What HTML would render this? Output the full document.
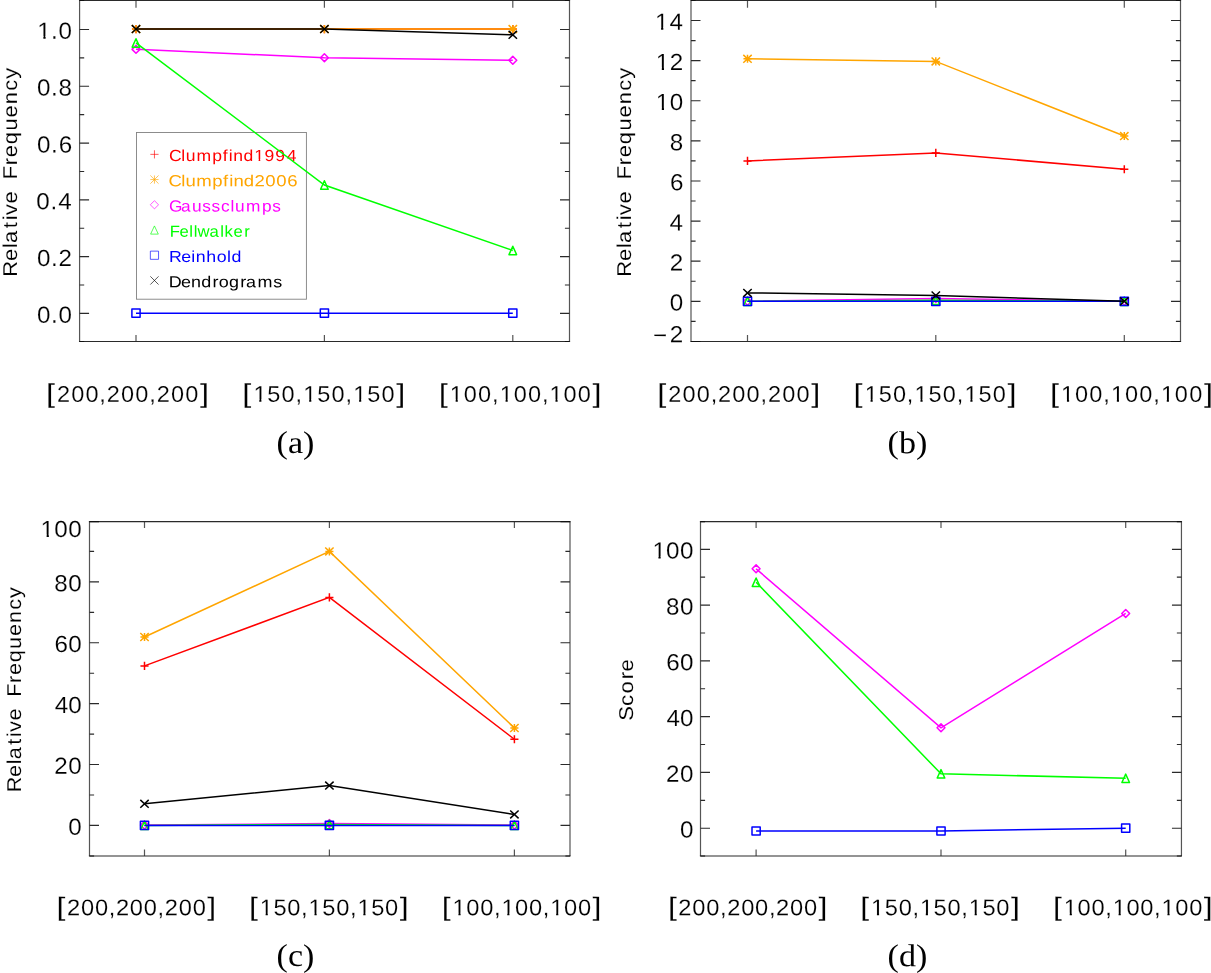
<!DOCTYPE html>
<html><head><meta charset="utf-8"><style>
html,body{margin:0;padding:0;background:#fff;overflow:hidden;}
svg{display:block;will-change:transform;}
text{text-rendering:geometricPrecision;font-size:100px;font-kerning:none;font-variant-ligatures:none;}
.sans{font-family:"Liberation Sans", sans-serif;}
.serif{font-family:"Liberation Serif", serif;}
</style></head><body>
<svg width="1211" height="973" viewBox="0 0 1211 973">
<rect width="1211" height="973" fill="#fff"/>
<!-- panel a -->
<rect x="136.5" y="132.5" width="169.9" height="166.7" fill="none" stroke="#808080" stroke-width="0.9"/>
<path d="M150.35 154.35H158.55M154.45 150.25V158.45" stroke="#ff0000" stroke-width="0.65" fill="none" stroke-linejoin="round"/>
<clipPath id="c1"><path clip-rule="evenodd" d="M-10 -10H1300V1000H-10ZM254.62 158.93h4.00v3.07h-4.00ZM260.26 158.93h3.82v3.07h-3.82Z"/></clipPath><g clip-path="url(#c1)"><text class="sans" transform="translate(0 161.05) skewY(0.2) scale(0.17578 0.16000)" x="961.1 1031.3 1056.2 1117.6 1207.2 1267.6 1301.9 1326.6 1384.7 1446.4 1505.0 1566.5 1631.4" y="-3.69 -3.95 -4.05 -4.29 -4.63 -4.86 -4.99 -5.09 -5.31 -5.55 -5.77 -6.01 -6.26" fill="#ff0000">Clumpfind1994</text></g>
<path d="M150.35 179.57H158.55M154.45 175.47V183.67M150.35 175.47L158.55 183.67M150.35 183.67L158.55 175.47" stroke="#ffa500" stroke-width="0.65" fill="none" stroke-linejoin="round"/>
<text class="sans" transform="translate(0 186.27) skewY(0.2) scale(0.18546 0.16000)" x="909.2 977.4 1000.4 1058.4 1144.6 1202.9 1235.8 1258.7 1314.2 1371.8 1430.5 1489.2 1549.1" y="-3.68 -3.95 -4.05 -4.28 -4.63 -4.87 -5.00 -5.09 -5.32 -5.55 -5.79 -6.03 -6.27" fill="#ffa500">Clumpfind2006</text>
<path d="M150.35 204.79L154.45 200.69L158.55 204.79L154.45 208.89Z" stroke="#ff00ff" stroke-width="0.65" fill="none" stroke-linejoin="round"/>
<text class="sans" transform="translate(0 211.49) skewY(0.2) scale(0.17299 0.16000)" x="976.5 1045.8 1109.6 1169.5 1223.2 1277.2 1332.9 1358.9 1422.3 1513.9 1573.5" y="-3.69 -3.95 -4.19 -4.41 -4.62 -4.82 -5.03 -5.13 -5.37 -5.71 -5.94" fill="#ff00ff">Gaussclumps</text>
<path d="M150.60 234.11L154.45 225.91L158.30 234.11Z" stroke="#00ff00" stroke-width="0.65" fill="none" stroke-linejoin="round"/>
<text class="sans" transform="translate(0 236.71) skewY(0.2) scale(0.16705 0.16000)" x="1016.5 1074.8 1133.5 1159.3 1182.8 1253.7 1317.8 1344.2 1398.3 1461.8" y="-3.70 -3.92 -4.13 -4.23 -4.31 -4.57 -4.80 -4.90 -5.10 -5.33" fill="#00ff00">Fellwalker</text>
<path d="M150.35 251.13H158.55V259.33H150.35Z" stroke="#0000ff" stroke-width="0.65" fill="none" stroke-linejoin="round"/>
<text class="sans" transform="translate(0 261.93) skewY(0.2) scale(0.17737 0.16000)" x="952.2 1021.4 1078.4 1103.6 1162.5 1221.7 1280.4 1305.2" y="-3.68 -3.95 -4.17 -4.27 -4.50 -4.73 -4.95 -5.05" fill="#0000ff">Reinhold</text>
<path d="M150.35 276.35L158.55 284.55M150.35 284.55L158.55 276.35" stroke="#000000" stroke-width="0.65" fill="none" stroke-linejoin="round"/>
<text class="sans" transform="translate(0 287.15) skewY(0.2) scale(0.17985 0.16000)" x="938.3 1006.0 1061.9 1119.2 1181.3 1216.5 1273.7 1335.8 1367.4 1431.5 1519.8" y="-3.68 -3.95 -4.17 -4.39 -4.64 -4.77 -5.00 -5.24 -5.37 -5.62 -5.96" fill="#000000">Dendrograms</text>
<path d="M79.58 0.45V341.45M569.50 0.45V341.45M136.00 0.45v7.4M136.00 341.45v-6.55M324.40 0.45v7.4M324.40 341.45v-6.55M512.80 0.45v7.4M512.80 341.45v-6.55" stroke="#555555" stroke-width="1.2" fill="none"/>
<path d="M78.98 0.45H570.10M78.98 341.45H570.10M79.58 313.43h9.5M569.50 313.43h-9.5M79.58 285.03h4.6M569.50 285.03h-4.6M79.58 256.64h9.5M569.50 256.64h-9.5M79.58 228.24h4.6M569.50 228.24h-4.6M79.58 199.85h9.5M569.50 199.85h-9.5M79.58 171.45h4.6M569.50 171.45h-4.6M79.58 143.05h9.5M569.50 143.05h-9.5M79.58 114.66h4.6M569.50 114.66h-4.6M79.58 86.26h9.5M569.50 86.26h-9.5M79.58 57.87h4.6M569.50 57.87h-4.6M79.58 29.47h9.5M569.50 29.47h-9.5" stroke="#2a2a2a" stroke-width="1.15" fill="none"/>
<path d="M79.58 341.45h4.6M569.50 341.45h-4.6M79.58 0.45h4.6M569.50 0.45h-4.6" stroke="#111" stroke-width="1.15" fill="none"/>
<polyline points="136.00,29.10 324.40,29.10 512.80,29.10" stroke="#ff0000" stroke-width="1.5" fill="none"/>
<path d="M131.95 29.10H140.05M136.00 25.05V33.15" stroke="#ff0000" stroke-width="1.5" fill="none" stroke-linejoin="round"/>
<path d="M320.35 29.10H328.45M324.40 25.05V33.15" stroke="#ff0000" stroke-width="1.5" fill="none" stroke-linejoin="round"/>
<path d="M508.75 29.10H516.85M512.80 25.05V33.15" stroke="#ff0000" stroke-width="1.5" fill="none" stroke-linejoin="round"/>
<polyline points="136.00,29.10 324.40,29.10 512.80,29.10" stroke="#ffa500" stroke-width="1.5" fill="none"/>
<path d="M131.95 29.10H140.05M136.00 25.05V33.15M131.80 25.15L140.20 33.05M131.80 33.05L140.20 25.15" stroke="#ffa500" stroke-width="1.5" fill="none" stroke-linejoin="round"/>
<path d="M320.35 29.10H328.45M324.40 25.05V33.15M320.20 25.15L328.60 33.05M320.20 33.05L328.60 25.15" stroke="#ffa500" stroke-width="1.5" fill="none" stroke-linejoin="round"/>
<path d="M508.75 29.10H516.85M512.80 25.05V33.15M508.60 25.15L517.00 33.05M508.60 33.05L517.00 25.15" stroke="#ffa500" stroke-width="1.5" fill="none" stroke-linejoin="round"/>
<polyline points="136.00,49.35 324.40,57.70 512.80,60.30" stroke="#ff00ff" stroke-width="1.5" fill="none"/>
<path d="M132.05 49.35L136.00 45.40L139.95 49.35L136.00 53.30Z" stroke="#ff00ff" stroke-width="1.5" fill="none" stroke-linejoin="round"/>
<path d="M320.45 57.70L324.40 53.75L328.35 57.70L324.40 61.65Z" stroke="#ff00ff" stroke-width="1.5" fill="none" stroke-linejoin="round"/>
<path d="M508.85 60.30L512.80 56.35L516.75 60.30L512.80 64.25Z" stroke="#ff00ff" stroke-width="1.5" fill="none" stroke-linejoin="round"/>
<polyline points="136.00,42.95 324.40,185.00 512.80,250.45" stroke="#00ff00" stroke-width="1.5" fill="none"/>
<path d="M132.20 47.15L136.00 38.75L139.80 47.15Z" stroke="#00ff00" stroke-width="1.5" fill="none" stroke-linejoin="round"/>
<path d="M320.60 189.20L324.40 180.80L328.20 189.20Z" stroke="#00ff00" stroke-width="1.5" fill="none" stroke-linejoin="round"/>
<path d="M509.00 254.65L512.80 246.25L516.60 254.65Z" stroke="#00ff00" stroke-width="1.5" fill="none" stroke-linejoin="round"/>
<polyline points="136.00,313.20 324.40,313.20 512.80,313.20" stroke="#0000ff" stroke-width="1.5" fill="none"/>
<path d="M131.90 309.10H140.10V317.30H131.90Z" stroke="#0000ff" stroke-width="1.5" fill="none" stroke-linejoin="round"/>
<path d="M320.30 309.10H328.50V317.30H320.30Z" stroke="#0000ff" stroke-width="1.5" fill="none" stroke-linejoin="round"/>
<path d="M508.70 309.10H516.90V317.30H508.70Z" stroke="#0000ff" stroke-width="1.5" fill="none" stroke-linejoin="round"/>
<polyline points="136.00,29.10 324.40,29.10 512.80,34.80" stroke="#000000" stroke-width="1.5" fill="none"/>
<path d="M131.80 25.15L140.20 33.05M131.80 33.05L140.20 25.15" stroke="#000000" stroke-width="1.5" fill="none" stroke-linejoin="round"/>
<path d="M320.20 25.15L328.60 33.05M320.20 33.05L328.60 25.15" stroke="#000000" stroke-width="1.5" fill="none" stroke-linejoin="round"/>
<path d="M508.60 30.85L517.00 38.75M508.60 38.75L517.00 30.85" stroke="#000000" stroke-width="1.5" fill="none" stroke-linejoin="round"/>
<text class="sans" transform="translate(0 322.75) skewY(0.2) scale(0.24237 0.23305)" x="152.8 210.8 241.0" y="-0.55 -0.77 -0.88" fill="#000" stroke="#fff" stroke-width="0.63">0.0</text>
<text class="sans" transform="translate(0 265.96) skewY(0.2) scale(0.24237 0.23305)" x="152.8 210.8 241.0" y="-0.55 -0.77 -0.88" fill="#000" stroke="#fff" stroke-width="0.63">0.2</text>
<text class="sans" transform="translate(0 209.17) skewY(0.2) scale(0.24237 0.23305)" x="149.8 207.9 239.9" y="-0.54 -0.75 -0.87" fill="#000" stroke="#fff" stroke-width="0.63">0.4</text>
<text class="sans" transform="translate(0 152.38) skewY(0.2) scale(0.24237 0.23305)" x="152.8 210.8 242.2" y="-0.55 -0.77 -0.88" fill="#000" stroke="#fff" stroke-width="0.63">0.6</text>
<text class="sans" transform="translate(0 95.58) skewY(0.2) scale(0.24237 0.23305)" x="152.8 210.8 241.0" y="-0.55 -0.77 -0.88" fill="#000" stroke="#fff" stroke-width="0.63">0.8</text>
<clipPath id="c2"><path clip-rule="evenodd" d="M-10 -10H1300V1000H-10ZM38.07 36.12h5.30v3.62h-5.30ZM45.60 36.12h5.06v3.62h-5.06Z"/></clipPath><g clip-path="url(#c2)"><text class="sans" transform="translate(0 38.79) skewY(0.2) scale(0.24237 0.23305)" x="154.0 210.8 241.0" y="-0.56 -0.77 -0.88" fill="#000" stroke="#fff" stroke-width="0.63">1.0</text></g>
<text class="sans" transform="translate(46.07 402.30) skewY(0.2) scale(0.32662 0.26498)" fill="#000" stroke="#fff" stroke-width="0.51">[</text>
<text class="sans" transform="translate(200.01 402.30) skewY(0.2) scale(0.32662 0.26498)" fill="#000" stroke="#fff" stroke-width="0.51">]</text>
<text class="sans" transform="translate(0 401.78) skewY(0.2) scale(0.23503 0.22599)" x="242.0 302.7 363.3 422.8 454.3 515.0 575.7 635.1 666.7 727.4 788.1" y="-0.88 -1.10 -1.32 -1.53 -1.65 -1.87 -2.09 -2.31 -2.42 -2.64 -2.86" fill="#000" stroke="#fff" stroke-width="0.65">200,200,200</text>
<text class="sans" transform="translate(242.27 402.30) skewY(0.2) scale(0.32662 0.26498)" fill="#000" stroke="#fff" stroke-width="0.51">[</text>
<text class="sans" transform="translate(396.21 402.30) skewY(0.2) scale(0.32662 0.26498)" fill="#000" stroke="#fff" stroke-width="0.51">]</text>
<clipPath id="c3"><path clip-rule="evenodd" d="M-10 -10H1300V1000H-10ZM254.08 399.16h5.16v3.57h-5.16ZM261.41 399.16h4.92v3.57h-4.92ZM303.99 399.16h5.16v3.57h-5.16ZM311.32 399.16h4.92v3.57h-4.92ZM353.90 399.16h5.16v3.57h-5.16ZM361.23 399.16h4.92v3.57h-4.92Z"/></clipPath><g clip-path="url(#c3)"><text class="sans" transform="translate(0 401.78) skewY(0.2) scale(0.23503 0.22599)" x="1078.1 1137.6 1198.1 1257.6 1290.5 1349.9 1410.5 1469.9 1502.8 1562.3 1622.8" y="-3.91 -4.13 -4.35 -4.57 -4.68 -4.90 -5.12 -5.34 -5.46 -5.67 -5.89" fill="#000" stroke="#fff" stroke-width="0.65">150,150,150</text></g>
<text class="sans" transform="translate(438.67 402.30) skewY(0.2) scale(0.32662 0.26498)" fill="#000" stroke="#fff" stroke-width="0.51">[</text>
<text class="sans" transform="translate(592.61 402.30) skewY(0.2) scale(0.32662 0.26498)" fill="#000" stroke="#fff" stroke-width="0.51">]</text>
<clipPath id="c4"><path clip-rule="evenodd" d="M-10 -10H1300V1000H-10ZM450.48 399.16h5.16v3.57h-5.16ZM457.81 399.16h4.92v3.57h-4.92ZM500.39 399.16h5.16v3.57h-5.16ZM507.72 399.16h4.92v3.57h-4.92ZM550.30 399.16h5.16v3.57h-5.16ZM557.63 399.16h4.92v3.57h-4.92Z"/></clipPath><g clip-path="url(#c4)"><text class="sans" transform="translate(0 401.78) skewY(0.2) scale(0.23503 0.22599)" x="1913.8 1973.1 2033.8 2093.2 2126.1 2185.5 2246.1 2305.6 2338.5 2397.8 2458.5" y="-6.95 -7.16 -7.38 -7.60 -7.72 -7.93 -8.15 -8.37 -8.49 -8.70 -8.93" fill="#000" stroke="#fff" stroke-width="0.65">100,100,100</text></g>
<!-- panel b -->
<path d="M691.00 0.45V341.45M1180.50 0.45V341.45M747.50 0.45v7.4M747.50 341.45v-6.55M935.80 0.45v7.4M935.80 341.45v-6.55M1124.30 0.45v7.4M1124.30 341.45v-6.55" stroke="#555555" stroke-width="1.2" fill="none"/>
<path d="M690.40 0.45H1181.10M690.40 341.45H1181.10M691.00 321.36h4.6M1180.50 321.36h-4.6M691.00 301.30h9.5M1180.50 301.30h-9.5M691.00 281.24h4.6M1180.50 281.24h-4.6M691.00 261.19h9.5M1180.50 261.19h-9.5M691.00 241.13h4.6M1180.50 241.13h-4.6M691.00 221.07h9.5M1180.50 221.07h-9.5M691.00 201.02h4.6M1180.50 201.02h-4.6M691.00 180.96h9.5M1180.50 180.96h-9.5M691.00 160.90h4.6M1180.50 160.90h-4.6M691.00 140.84h9.5M1180.50 140.84h-9.5M691.00 120.79h4.6M1180.50 120.79h-4.6M691.00 100.73h9.5M1180.50 100.73h-9.5M691.00 80.67h4.6M1180.50 80.67h-4.6M691.00 60.62h9.5M1180.50 60.62h-9.5M691.00 40.56h4.6M1180.50 40.56h-4.6M691.00 20.50h9.5M1180.50 20.50h-9.5" stroke="#2a2a2a" stroke-width="1.15" fill="none"/>
<path d="M691.00 341.45h9.5M1180.50 341.45h-9.5M691.00 0.45h4.6M1180.50 0.45h-4.6" stroke="#111" stroke-width="1.15" fill="none"/>
<polyline points="747.50,160.90 935.80,152.88 1124.30,169.32" stroke="#ff0000" stroke-width="1.5" fill="none"/>
<path d="M743.45 160.90H751.55M747.50 156.85V164.95" stroke="#ff0000" stroke-width="1.5" fill="none" stroke-linejoin="round"/>
<path d="M931.75 152.88H939.85M935.80 148.83V156.93" stroke="#ff0000" stroke-width="1.5" fill="none" stroke-linejoin="round"/>
<path d="M1120.25 169.32H1128.35M1124.30 165.27V173.37" stroke="#ff0000" stroke-width="1.5" fill="none" stroke-linejoin="round"/>
<polyline points="747.50,58.81 935.80,61.42 1124.30,136.03" stroke="#ffa500" stroke-width="1.5" fill="none"/>
<path d="M743.45 58.81H751.55M747.50 54.76V62.86M743.30 54.86L751.70 62.76M743.30 62.76L751.70 54.86" stroke="#ffa500" stroke-width="1.5" fill="none" stroke-linejoin="round"/>
<path d="M931.75 61.42H939.85M935.80 57.37V65.47M931.60 57.47L940.00 65.37M931.60 65.37L940.00 57.47" stroke="#ffa500" stroke-width="1.5" fill="none" stroke-linejoin="round"/>
<path d="M1120.25 136.03H1128.35M1124.30 131.98V140.08M1120.10 132.08L1128.50 139.98M1120.10 139.98L1128.50 132.08" stroke="#ffa500" stroke-width="1.5" fill="none" stroke-linejoin="round"/>
<polyline points="747.50,301.30 935.80,298.49 1124.30,301.30" stroke="#ff00ff" stroke-width="1.5" fill="none"/>
<path d="M743.55 301.30L747.50 297.35L751.45 301.30L747.50 305.25Z" stroke="#ff00ff" stroke-width="1.5" fill="none" stroke-linejoin="round"/>
<path d="M931.85 298.49L935.80 294.54L939.75 298.49L935.80 302.44Z" stroke="#ff00ff" stroke-width="1.5" fill="none" stroke-linejoin="round"/>
<path d="M1120.35 301.30L1124.30 297.35L1128.25 301.30L1124.30 305.25Z" stroke="#ff00ff" stroke-width="1.5" fill="none" stroke-linejoin="round"/>
<polyline points="747.50,301.30 935.80,300.30 1124.30,301.30" stroke="#00ff00" stroke-width="1.5" fill="none"/>
<path d="M743.70 305.50L747.50 297.10L751.30 305.50Z" stroke="#00ff00" stroke-width="1.5" fill="none" stroke-linejoin="round"/>
<path d="M932.00 304.50L935.80 296.10L939.60 304.50Z" stroke="#00ff00" stroke-width="1.5" fill="none" stroke-linejoin="round"/>
<path d="M1120.50 305.50L1124.30 297.10L1128.10 305.50Z" stroke="#00ff00" stroke-width="1.5" fill="none" stroke-linejoin="round"/>
<polyline points="747.50,301.30 935.80,301.30 1124.30,301.30" stroke="#0000ff" stroke-width="1.5" fill="none"/>
<path d="M743.40 297.20H751.60V305.40H743.40Z" stroke="#0000ff" stroke-width="1.5" fill="none" stroke-linejoin="round"/>
<path d="M931.70 297.20H939.90V305.40H931.70Z" stroke="#0000ff" stroke-width="1.5" fill="none" stroke-linejoin="round"/>
<path d="M1120.20 297.20H1128.40V305.40H1120.20Z" stroke="#0000ff" stroke-width="1.5" fill="none" stroke-linejoin="round"/>
<polyline points="747.50,292.88 935.80,295.48 1124.30,301.30" stroke="#000000" stroke-width="1.5" fill="none"/>
<path d="M743.30 288.93L751.70 296.83M743.30 296.83L751.70 288.93" stroke="#000000" stroke-width="1.5" fill="none" stroke-linejoin="round"/>
<path d="M931.60 291.53L940.00 299.43M931.60 299.43L940.00 291.53" stroke="#000000" stroke-width="1.5" fill="none" stroke-linejoin="round"/>
<path d="M1120.10 297.35L1128.50 305.25M1120.10 305.25L1128.50 297.35" stroke="#000000" stroke-width="1.5" fill="none" stroke-linejoin="round"/>
<text class="sans" transform="translate(0 342.22) skewY(0.2) scale(0.24237 0.23305)" x="2694.1 2763.2" y="-6.78 -10.03" fill="#000" stroke="#fff" stroke-width="0.63">−2</text>
<text class="sans" transform="translate(0 310.62) skewY(0.2) scale(0.24237 0.23305)" x="2763.2" y="-10.03" fill="#000" stroke="#fff" stroke-width="0.63">0</text>
<text class="sans" transform="translate(0 270.51) skewY(0.2) scale(0.24237 0.23305)" x="2763.2" y="-10.03" fill="#000" stroke="#fff" stroke-width="0.63">2</text>
<text class="sans" transform="translate(0 230.39) skewY(0.2) scale(0.24237 0.23305)" x="2762.0" y="-10.03" fill="#000" stroke="#fff" stroke-width="0.63">4</text>
<text class="sans" transform="translate(0 190.28) skewY(0.2) scale(0.24237 0.23305)" x="2764.3" y="-10.04" fill="#000" stroke="#fff" stroke-width="0.63">6</text>
<text class="sans" transform="translate(0 150.17) skewY(0.2) scale(0.24237 0.23305)" x="2763.2" y="-10.03" fill="#000" stroke="#fff" stroke-width="0.63">8</text>
<clipPath id="c5"><path clip-rule="evenodd" d="M-10 -10H1300V1000H-10ZM656.50 107.38h5.30v3.62h-5.30ZM664.03 107.38h5.06v3.62h-5.06Z"/></clipPath><g clip-path="url(#c5)"><text class="sans" transform="translate(0 110.05) skewY(0.2) scale(0.24237 0.23305)" x="2705.6 2763.2" y="-9.82 -10.03" fill="#000" stroke="#fff" stroke-width="0.63">10</text></g>
<clipPath id="c6"><path clip-rule="evenodd" d="M-10 -10H1300V1000H-10ZM656.50 67.27h5.30v3.62h-5.30ZM664.03 67.27h5.06v3.62h-5.06Z"/></clipPath><g clip-path="url(#c6)"><text class="sans" transform="translate(0 69.94) skewY(0.2) scale(0.24237 0.23305)" x="2705.6 2763.2" y="-9.82 -10.03" fill="#000" stroke="#fff" stroke-width="0.63">12</text></g>
<clipPath id="c7"><path clip-rule="evenodd" d="M-10 -10H1300V1000H-10ZM655.78 27.15h5.30v3.62h-5.30ZM663.32 27.15h5.06v3.62h-5.06Z"/></clipPath><g clip-path="url(#c7)"><text class="sans" transform="translate(0 29.82) skewY(0.2) scale(0.24237 0.23305)" x="2702.6 2762.0" y="-9.81 -10.03" fill="#000" stroke="#fff" stroke-width="0.63">14</text></g>
<text class="sans" transform="translate(657.37 402.30) skewY(0.2) scale(0.32662 0.26498)" fill="#000" stroke="#fff" stroke-width="0.51">[</text>
<text class="sans" transform="translate(811.31 402.30) skewY(0.2) scale(0.32662 0.26498)" fill="#000" stroke="#fff" stroke-width="0.51">]</text>
<text class="sans" transform="translate(0 401.78) skewY(0.2) scale(0.23503 0.22599)" x="2843.0 2903.6 2964.3 3023.7 3055.3 3116.0 3176.7 3236.1 3267.7 3328.3 3389.0" y="-10.32 -10.54 -10.76 -10.98 -11.09 -11.31 -11.53 -11.75 -11.86 -12.08 -12.30" fill="#000" stroke="#fff" stroke-width="0.65">200,200,200</text>
<text class="sans" transform="translate(853.57 402.30) skewY(0.2) scale(0.32662 0.26498)" fill="#000" stroke="#fff" stroke-width="0.51">[</text>
<text class="sans" transform="translate(1007.51 402.30) skewY(0.2) scale(0.32662 0.26498)" fill="#000" stroke="#fff" stroke-width="0.51">]</text>
<clipPath id="c8"><path clip-rule="evenodd" d="M-10 -10H1300V1000H-10ZM865.38 399.16h5.16v3.57h-5.16ZM872.71 399.16h4.92v3.57h-4.92ZM915.29 399.16h5.16v3.57h-5.16ZM922.62 399.16h4.92v3.57h-4.92ZM965.20 399.16h5.16v3.57h-5.16ZM972.53 399.16h4.92v3.57h-4.92Z"/></clipPath><g clip-path="url(#c8)"><text class="sans" transform="translate(0 401.78) skewY(0.2) scale(0.23503 0.22599)" x="3679.1 3738.5 3799.1 3858.5 3891.4 3950.9 4011.5 4070.9 4103.8 4163.2 4223.8" y="-13.36 -13.57 -13.79 -14.01 -14.13 -14.34 -14.56 -14.78 -14.90 -15.11 -15.33" fill="#000" stroke="#fff" stroke-width="0.65">150,150,150</text></g>
<text class="sans" transform="translate(1049.97 402.30) skewY(0.2) scale(0.32662 0.26498)" fill="#000" stroke="#fff" stroke-width="0.51">[</text>
<text class="sans" transform="translate(1203.91 402.30) skewY(0.2) scale(0.32662 0.26498)" fill="#000" stroke="#fff" stroke-width="0.51">]</text>
<clipPath id="c9"><path clip-rule="evenodd" d="M-10 -10H1300V1000H-10ZM1061.78 399.16h5.16v3.57h-5.16ZM1069.11 399.16h4.92v3.57h-4.92ZM1111.69 399.16h5.16v3.57h-5.16ZM1119.02 399.16h4.92v3.57h-4.92ZM1161.60 399.16h5.16v3.57h-5.16ZM1168.93 399.16h4.92v3.57h-4.92Z"/></clipPath><g clip-path="url(#c9)"><text class="sans" transform="translate(0 401.78) skewY(0.2) scale(0.23503 0.22599)" x="4514.7 4574.1 4634.7 4694.2 4727.1 4786.4 4847.1 4906.5 4939.4 4998.8 5059.5" y="-16.39 -16.61 -16.83 -17.04 -17.16 -17.38 -17.60 -17.81 -17.93 -18.15 -18.37" fill="#000" stroke="#fff" stroke-width="0.65">100,100,100</text></g>
<!-- panel c -->
<path d="M89.50 521.55V855.95M570.00 521.55V855.95M144.50 521.55v6.5M144.50 855.95v-6.55M329.40 521.55v6.5M329.40 855.95v-6.55M514.40 521.55v6.5M514.40 855.95v-6.55" stroke="#555555" stroke-width="1.2" fill="none"/>
<path d="M88.90 521.55H570.60M88.90 855.95H570.60M89.50 825.40h9.5M570.00 825.40h-9.5M89.50 794.96h4.6M570.00 794.96h-4.6M89.50 764.52h9.5M570.00 764.52h-9.5M89.50 734.08h4.6M570.00 734.08h-4.6M89.50 703.64h9.5M570.00 703.64h-9.5M89.50 673.20h4.6M570.00 673.20h-4.6M89.50 642.76h9.5M570.00 642.76h-9.5M89.50 612.32h4.6M570.00 612.32h-4.6M89.50 581.88h9.5M570.00 581.88h-9.5M89.50 551.44h4.6M570.00 551.44h-4.6" stroke="#2a2a2a" stroke-width="1.15" fill="none"/>
<path d="M89.50 855.95h4.6M570.00 855.95h-4.6M89.50 521.55h9.5M570.00 521.55h-9.5" stroke="#111" stroke-width="1.15" fill="none"/>
<polyline points="144.50,665.89 329.40,597.40 514.40,739.25" stroke="#ff0000" stroke-width="1.5" fill="none"/>
<path d="M140.45 665.89H148.55M144.50 661.84V669.94" stroke="#ff0000" stroke-width="1.5" fill="none" stroke-linejoin="round"/>
<path d="M325.35 597.40H333.45M329.40 593.35V601.45" stroke="#ff0000" stroke-width="1.5" fill="none" stroke-linejoin="round"/>
<path d="M510.35 739.25H518.45M514.40 735.20V743.30" stroke="#ff0000" stroke-width="1.5" fill="none" stroke-linejoin="round"/>
<polyline points="144.50,636.98 329.40,551.44 514.40,727.99" stroke="#ffa500" stroke-width="1.5" fill="none"/>
<path d="M140.45 636.98H148.55M144.50 632.93V641.03M140.30 633.03L148.70 640.93M140.30 640.93L148.70 633.03" stroke="#ffa500" stroke-width="1.5" fill="none" stroke-linejoin="round"/>
<path d="M325.35 551.44H333.45M329.40 547.39V555.49M325.20 547.49L333.60 555.39M325.20 555.39L333.60 547.49" stroke="#ffa500" stroke-width="1.5" fill="none" stroke-linejoin="round"/>
<path d="M510.35 727.99H518.45M514.40 723.94V732.04M510.20 724.04L518.60 731.94M510.20 731.94L518.60 724.04" stroke="#ffa500" stroke-width="1.5" fill="none" stroke-linejoin="round"/>
<polyline points="144.50,825.10 329.40,823.57 514.40,825.10" stroke="#ff00ff" stroke-width="1.5" fill="none"/>
<path d="M140.55 825.10L144.50 821.15L148.45 825.10L144.50 829.05Z" stroke="#ff00ff" stroke-width="1.5" fill="none" stroke-linejoin="round"/>
<path d="M325.45 823.57L329.40 819.62L333.35 823.57L329.40 827.52Z" stroke="#ff00ff" stroke-width="1.5" fill="none" stroke-linejoin="round"/>
<path d="M510.45 825.10L514.40 821.15L518.35 825.10L514.40 829.05Z" stroke="#ff00ff" stroke-width="1.5" fill="none" stroke-linejoin="round"/>
<polyline points="144.50,825.40 329.40,824.49 514.40,825.40" stroke="#00ff00" stroke-width="1.5" fill="none"/>
<path d="M140.70 829.60L144.50 821.20L148.30 829.60Z" stroke="#00ff00" stroke-width="1.5" fill="none" stroke-linejoin="round"/>
<path d="M325.60 828.69L329.40 820.29L333.20 828.69Z" stroke="#00ff00" stroke-width="1.5" fill="none" stroke-linejoin="round"/>
<path d="M510.60 829.60L514.40 821.20L518.20 829.60Z" stroke="#00ff00" stroke-width="1.5" fill="none" stroke-linejoin="round"/>
<polyline points="144.50,825.40 329.40,825.40 514.40,825.40" stroke="#0000ff" stroke-width="1.5" fill="none"/>
<path d="M140.40 821.30H148.60V829.50H140.40Z" stroke="#0000ff" stroke-width="1.5" fill="none" stroke-linejoin="round"/>
<path d="M325.30 821.30H333.50V829.50H325.30Z" stroke="#0000ff" stroke-width="1.5" fill="none" stroke-linejoin="round"/>
<path d="M510.30 821.30H518.50V829.50H510.30Z" stroke="#0000ff" stroke-width="1.5" fill="none" stroke-linejoin="round"/>
<polyline points="144.50,803.79 329.40,785.61 514.40,814.44" stroke="#000000" stroke-width="1.5" fill="none"/>
<path d="M140.30 799.84L148.70 807.74M140.30 807.74L148.70 799.84" stroke="#000000" stroke-width="1.5" fill="none" stroke-linejoin="round"/>
<path d="M325.20 781.66L333.60 789.56M325.20 789.56L333.60 781.66" stroke="#000000" stroke-width="1.5" fill="none" stroke-linejoin="round"/>
<path d="M510.20 810.49L518.60 818.39M510.20 818.39L518.60 810.49" stroke="#000000" stroke-width="1.5" fill="none" stroke-linejoin="round"/>
<text class="sans" transform="translate(0 834.72) skewY(0.2) scale(0.24237 0.23305)" x="281.5" y="-1.02" fill="#000" stroke="#fff" stroke-width="0.63">0</text>
<text class="sans" transform="translate(0 773.84) skewY(0.2) scale(0.24237 0.23305)" x="223.9 281.5" y="-0.81 -1.02" fill="#000" stroke="#fff" stroke-width="0.63">20</text>
<text class="sans" transform="translate(0 712.96) skewY(0.2) scale(0.24237 0.23305)" x="225.6 281.5" y="-0.82 -1.02" fill="#000" stroke="#fff" stroke-width="0.63">40</text>
<text class="sans" transform="translate(0 652.08) skewY(0.2) scale(0.24237 0.23305)" x="225.0 281.5" y="-0.82 -1.02" fill="#000" stroke="#fff" stroke-width="0.63">60</text>
<text class="sans" transform="translate(0 591.20) skewY(0.2) scale(0.24237 0.23305)" x="223.9 281.5" y="-0.81 -1.02" fill="#000" stroke="#fff" stroke-width="0.63">80</text>
<clipPath id="c10"><path clip-rule="evenodd" d="M-10 -10H1300V1000H-10ZM41.33 534.45h5.30v3.62h-5.30ZM48.86 534.45h5.06v3.62h-5.06Z"/></clipPath><g clip-path="url(#c10)"><text class="sans" transform="translate(0 537.12) skewY(0.2) scale(0.24237 0.23305)" x="167.5 223.9 281.5" y="-0.61 -0.81 -1.02" fill="#000" stroke="#fff" stroke-width="0.63">100</text></g>
<text class="sans" transform="translate(56.61 915.49) skewY(0.2) scale(0.32134 0.26069)" fill="#000" stroke="#fff" stroke-width="0.52">[</text>
<text class="sans" transform="translate(207.32 915.49) skewY(0.2) scale(0.32134 0.26069)" fill="#000" stroke="#fff" stroke-width="0.52">]</text>
<text class="sans" transform="translate(0 915.28) skewY(0.2) scale(0.23650 0.22740)" x="283.4 342.5 401.5 459.7 490.0 549.1 608.1 666.3 696.6 755.7 814.7" y="-1.03 -1.24 -1.46 -1.67 -1.78 -1.99 -2.21 -2.42 -2.53 -2.74 -2.96" fill="#000" stroke="#fff" stroke-width="0.65">200,200,200</text>
<text class="sans" transform="translate(249.01 915.49) skewY(0.2) scale(0.32134 0.26069)" fill="#000" stroke="#fff" stroke-width="0.52">[</text>
<text class="sans" transform="translate(399.72 915.49) skewY(0.2) scale(0.32134 0.26069)" fill="#000" stroke="#fff" stroke-width="0.52">]</text>
<clipPath id="c11"><path clip-rule="evenodd" d="M-10 -10H1300V1000H-10ZM260.43 912.65h5.19v3.58h-5.19ZM267.80 912.65h4.95v3.58h-4.95ZM309.29 912.65h5.19v3.58h-5.19ZM316.66 912.65h4.95v3.58h-4.95ZM358.15 912.65h5.19v3.58h-5.19ZM365.52 912.65h4.95v3.58h-4.95Z"/></clipPath><g clip-path="url(#c11)"><text class="sans" transform="translate(0 915.28) skewY(0.2) scale(0.23650 0.22740)" x="1098.2 1156.1 1215.0 1273.2 1304.8 1362.7 1421.6 1479.8 1511.4 1569.3 1628.2" y="-3.99 -4.20 -4.41 -4.62 -4.74 -4.95 -5.16 -5.37 -5.49 -5.70 -5.91" fill="#000" stroke="#fff" stroke-width="0.65">150,150,150</text></g>
<text class="sans" transform="translate(441.81 915.49) skewY(0.2) scale(0.32134 0.26069)" fill="#000" stroke="#fff" stroke-width="0.52">[</text>
<text class="sans" transform="translate(592.52 915.49) skewY(0.2) scale(0.32134 0.26069)" fill="#000" stroke="#fff" stroke-width="0.52">]</text>
<clipPath id="c12"><path clip-rule="evenodd" d="M-10 -10H1300V1000H-10ZM453.23 912.65h5.19v3.58h-5.19ZM460.60 912.65h4.95v3.58h-4.95ZM502.09 912.65h5.19v3.58h-5.19ZM509.46 912.65h4.95v3.58h-4.95ZM550.95 912.65h5.19v3.58h-5.19ZM558.32 912.65h4.95v3.58h-4.95Z"/></clipPath><g clip-path="url(#c12)"><text class="sans" transform="translate(0 915.28) skewY(0.2) scale(0.23650 0.22740)" x="1913.5 1971.2 2030.3 2088.5 2120.1 2177.8 2236.9 2295.1 2326.7 2384.4 2443.5" y="-6.95 -7.16 -7.37 -7.58 -7.70 -7.91 -8.12 -8.33 -8.45 -8.66 -8.87" fill="#000" stroke="#fff" stroke-width="0.65">100,100,100</text></g>
<!-- panel d -->
<path d="M700.50 521.55V855.95M1181.45 521.55V855.95M756.10 521.55v6.5M756.10 855.95v-6.55M941.00 521.55v6.5M941.00 855.95v-6.55M1125.70 521.55v6.5M1125.70 855.95v-6.55" stroke="#555555" stroke-width="1.2" fill="none"/>
<path d="M699.90 521.55H1182.05M699.90 855.95H1182.05M700.50 828.20h9.5M1181.45 828.20h-9.5M700.50 800.31h4.6M1181.45 800.31h-4.6M700.50 772.42h9.5M1181.45 772.42h-9.5M700.50 744.53h4.6M1181.45 744.53h-4.6M700.50 716.64h9.5M1181.45 716.64h-9.5M700.50 688.75h4.6M1181.45 688.75h-4.6M700.50 660.86h9.5M1181.45 660.86h-9.5M700.50 632.97h4.6M1181.45 632.97h-4.6M700.50 605.08h9.5M1181.45 605.08h-9.5M700.50 577.19h4.6M1181.45 577.19h-4.6M700.50 549.30h9.5M1181.45 549.30h-9.5" stroke="#2a2a2a" stroke-width="1.15" fill="none"/>
<path d="M700.50 855.95h4.6M1181.45 855.95h-4.6M700.50 521.55h4.6M1181.45 521.55h-4.6" stroke="#111" stroke-width="1.15" fill="none"/>
<polyline points="756.10,568.82 941.00,727.80 1125.70,613.45" stroke="#ff00ff" stroke-width="1.5" fill="none"/>
<path d="M752.15 568.82L756.10 564.87L760.05 568.82L756.10 572.77Z" stroke="#ff00ff" stroke-width="1.5" fill="none" stroke-linejoin="round"/>
<path d="M937.05 727.80L941.00 723.85L944.95 727.80L941.00 731.75Z" stroke="#ff00ff" stroke-width="1.5" fill="none" stroke-linejoin="round"/>
<path d="M1121.75 613.45L1125.70 609.50L1129.65 613.45L1125.70 617.40Z" stroke="#ff00ff" stroke-width="1.5" fill="none" stroke-linejoin="round"/>
<polyline points="756.10,582.21 941.00,773.81 1125.70,778.28" stroke="#00ff00" stroke-width="1.5" fill="none"/>
<path d="M752.30 586.41L756.10 578.01L759.90 586.41Z" stroke="#00ff00" stroke-width="1.5" fill="none" stroke-linejoin="round"/>
<path d="M937.20 778.01L941.00 769.61L944.80 778.01Z" stroke="#00ff00" stroke-width="1.5" fill="none" stroke-linejoin="round"/>
<path d="M1121.90 782.48L1125.70 774.08L1129.50 782.48Z" stroke="#00ff00" stroke-width="1.5" fill="none" stroke-linejoin="round"/>
<polyline points="756.10,830.99 941.00,830.99 1125.70,828.20" stroke="#0000ff" stroke-width="1.5" fill="none"/>
<path d="M752.00 826.89H760.20V835.09H752.00Z" stroke="#0000ff" stroke-width="1.5" fill="none" stroke-linejoin="round"/>
<path d="M936.90 826.89H945.10V835.09H936.90Z" stroke="#0000ff" stroke-width="1.5" fill="none" stroke-linejoin="round"/>
<path d="M1121.60 824.10H1129.80V832.30H1121.60Z" stroke="#0000ff" stroke-width="1.5" fill="none" stroke-linejoin="round"/>
<text class="sans" transform="translate(0 837.52) skewY(0.2) scale(0.24237 0.23305)" x="2805.7" y="-10.19" fill="#000" stroke="#fff" stroke-width="0.63">0</text>
<text class="sans" transform="translate(0 781.74) skewY(0.2) scale(0.24237 0.23305)" x="2748.1 2805.7" y="-9.98 -10.19" fill="#000" stroke="#fff" stroke-width="0.63">20</text>
<text class="sans" transform="translate(0 725.96) skewY(0.2) scale(0.24237 0.23305)" x="2749.9 2805.7" y="-9.98 -10.19" fill="#000" stroke="#fff" stroke-width="0.63">40</text>
<text class="sans" transform="translate(0 670.18) skewY(0.2) scale(0.24237 0.23305)" x="2749.2 2805.7" y="-9.98 -10.19" fill="#000" stroke="#fff" stroke-width="0.63">60</text>
<text class="sans" transform="translate(0 614.40) skewY(0.2) scale(0.24237 0.23305)" x="2748.1 2805.7" y="-9.98 -10.19" fill="#000" stroke="#fff" stroke-width="0.63">80</text>
<clipPath id="c13"><path clip-rule="evenodd" d="M-10 -10H1300V1000H-10ZM653.13 555.95h5.30v3.62h-5.30ZM660.66 555.95h5.06v3.62h-5.06Z"/></clipPath><g clip-path="url(#c13)"><text class="sans" transform="translate(0 558.62) skewY(0.2) scale(0.24237 0.23305)" x="2691.7 2748.1 2805.7" y="-9.77 -9.98 -10.19" fill="#000" stroke="#fff" stroke-width="0.63">100</text></g>
<text class="sans" transform="translate(667.91 915.49) skewY(0.2) scale(0.32134 0.26069)" fill="#000" stroke="#fff" stroke-width="0.52">[</text>
<text class="sans" transform="translate(818.62 915.49) skewY(0.2) scale(0.32134 0.26069)" fill="#000" stroke="#fff" stroke-width="0.52">]</text>
<text class="sans" transform="translate(0 915.28) skewY(0.2) scale(0.23650 0.22740)" x="2868.3 2927.3 2986.3 3044.5 3074.9 3133.9 3192.9 3251.1 3281.4 3340.5 3399.5" y="-10.41 -10.63 -10.84 -11.05 -11.16 -11.38 -11.59 -11.80 -11.91 -12.13 -12.34" fill="#000" stroke="#fff" stroke-width="0.65">200,200,200</text>
<text class="sans" transform="translate(860.31 915.49) skewY(0.2) scale(0.32134 0.26069)" fill="#000" stroke="#fff" stroke-width="0.52">[</text>
<text class="sans" transform="translate(1011.02 915.49) skewY(0.2) scale(0.32134 0.26069)" fill="#000" stroke="#fff" stroke-width="0.52">]</text>
<clipPath id="c14"><path clip-rule="evenodd" d="M-10 -10H1300V1000H-10ZM871.73 912.65h5.19v3.58h-5.19ZM879.10 912.65h4.95v3.58h-4.95ZM920.59 912.65h5.19v3.58h-5.19ZM927.96 912.65h4.95v3.58h-4.95ZM969.45 912.65h5.19v3.58h-5.19ZM976.82 912.65h4.95v3.58h-4.95Z"/></clipPath><g clip-path="url(#c14)"><text class="sans" transform="translate(0 915.28) skewY(0.2) scale(0.23650 0.22740)" x="3683.1 3740.9 3799.8 3858.0 3889.7 3947.5 4006.4 4064.6 4096.2 4154.1 4213.0" y="-13.37 -13.58 -13.79 -14.01 -14.12 -14.33 -14.54 -14.76 -14.87 -15.08 -15.29" fill="#000" stroke="#fff" stroke-width="0.65">150,150,150</text></g>
<text class="sans" transform="translate(1053.11 915.49) skewY(0.2) scale(0.32134 0.26069)" fill="#000" stroke="#fff" stroke-width="0.52">[</text>
<text class="sans" transform="translate(1203.82 915.49) skewY(0.2) scale(0.32134 0.26069)" fill="#000" stroke="#fff" stroke-width="0.52">]</text>
<clipPath id="c15"><path clip-rule="evenodd" d="M-10 -10H1300V1000H-10ZM1064.53 912.65h5.19v3.58h-5.19ZM1071.90 912.65h4.95v3.58h-4.95ZM1113.39 912.65h5.19v3.58h-5.19ZM1120.76 912.65h4.95v3.58h-4.95ZM1162.25 912.65h5.19v3.58h-5.19ZM1169.62 912.65h4.95v3.58h-4.95Z"/></clipPath><g clip-path="url(#c15)"><text class="sans" transform="translate(0 915.28) skewY(0.2) scale(0.23650 0.22740)" x="4498.3 4556.1 4615.1 4673.3 4704.9 4762.7 4821.7 4879.9 4911.5 4969.2 5028.3" y="-16.33 -16.54 -16.75 -16.97 -17.08 -17.29 -17.50 -17.72 -17.83 -18.04 -18.25" fill="#000" stroke="#fff" stroke-width="0.65">100,100,100</text></g>
<text class="sans" transform="translate(17.00 0) rotate(-90) scale(0.21899 0.20000)" x="-1263.4 -1191.6 -1132.9 -1109.5 -1041.9 -1006.3 -981.3 -928.8 -860.0 -818.6 -754.8 -718.0 -658.6 -596.3 -536.3 -476.5 -414.4 -360.1" y="0" fill="#000" stroke="#fff" stroke-width="0.48">Relative Frequency</text>
<text class="sans" transform="translate(631.20 0) rotate(-90) scale(0.21899 0.20000)" x="-1263.4 -1191.6 -1132.9 -1109.5 -1041.9 -1006.3 -981.3 -928.8 -860.0 -818.6 -754.8 -718.0 -658.6 -596.3 -536.3 -476.5 -414.4 -360.1" y="0" fill="#000" stroke="#fff" stroke-width="0.48">Relative Frequency</text>
<text class="sans" transform="translate(21.00 0) rotate(-90) scale(0.21570 0.20000)" x="-3673.4 -3601.7 -3543.1 -3519.9 -3452.5 -3416.9 -3392.0 -3339.8 -3271.1 -3229.9 -3166.3 -3129.6 -3070.4 -3008.3 -2948.5 -2888.8 -2826.9 -2772.8" y="0" fill="#000" stroke="#fff" stroke-width="0.48">Relative Frequency</text>
<text class="sans" transform="translate(632.60 0) rotate(-90) scale(0.22167 0.20000)" x="-3251.9 -3184.5 -3128.2 -3064.3 -3028.8" y="0" fill="#000" stroke="#fff" stroke-width="0.47">Score</text>
<text class="serif" transform="translate(276.55 453.04) skewY(0.2) scale(0.34101 0.31762)" fill="#000">(a)</text>
<text class="serif" transform="translate(887.60 453.11) skewY(0.2) scale(0.34041 0.31872)" fill="#000">(b)</text>
<text class="serif" transform="translate(276.56 966.04) skewY(0.2) scale(0.34003 0.31762)" fill="#000">(c)</text>
<text class="serif" transform="translate(887.60 966.14) skewY(0.2) scale(0.34041 0.31762)" fill="#000">(d)</text>
</svg>
</body></html>
